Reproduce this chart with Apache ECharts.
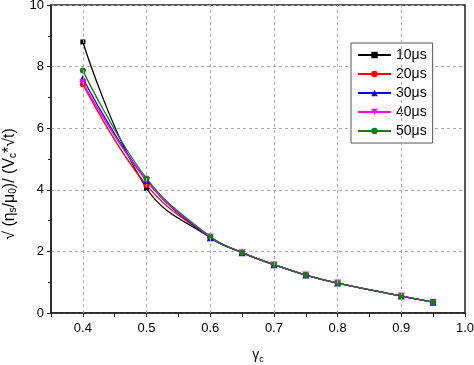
<!DOCTYPE html>
<html>
<head>
<meta charset="utf-8">
<script src="https://cdn.jsdelivr.net/npm/echarts@6/dist/echarts.min.js"></script>
<style>
  html, body { margin: 0; padding: 0; background: #fff; }
  #main { width: 474px; height: 365px; }
</style>
</head>
<body>
<div id="main"></div>
<script>
  var gammaC = [0.4, 0.5, 0.6, 0.65, 0.7, 0.75, 0.8, 0.9, 0.95];
  var s10 = [8.8, 4.05, 2.45, 1.96, 1.57, 1.23, 0.97, 0.55, 0.35];
  var s20 = [7.43, 4.15, 2.46, 1.96, 1.57, 1.23, 0.97, 0.55, 0.35];
  var s30 = [7.62, 4.3, 2.44, 1.96, 1.57, 1.23, 0.97, 0.55, 0.35];
  var s40 = [7.48, 4.3, 2.47, 1.96, 1.56, 1.23, 0.97, 0.55, 0.35];
  var s50 = [7.87, 4.37, 2.48, 1.96, 1.57, 1.23, 0.97, 0.55, 0.35];
  var seriesNames = ['10μs', '20μs', '30μs', '40μs', '50μs'];
  var xGridLines = [0.4, 0.5, 0.6, 0.7, 0.8, 0.9];

  var font = 'Liberation Sans';

  function pairs(vals) {
    return gammaC.map(function (x, i) { return [x, vals[i]]; });
  }

  function mkSeries(name, vals, color, symbol, size, rotate) {
    return {
      name: name,
      type: 'line',
      smooth: 0.4,
      data: pairs(vals),
      symbol: symbol,
      symbolSize: size,
      symbolRotate: rotate || 0,
      itemStyle: { color: color },
      lineStyle: { color: color, width: 1.3 }
    };
  }

  var series = [
    mkSeries(seriesNames[0], s10, '#000000', 'rect', 5),
    mkSeries(seriesNames[1], s20, '#ff0000', 'circle', 6),
    mkSeries(seriesNames[2], s30, '#0000ff', 'triangle', 7),
    mkSeries(seriesNames[3], s40, '#ff00ff', 'triangle', 7, 180),
    mkSeries(seriesNames[4], s50, '#1a7a1a', 'circle', 6)
  ];
  // vertical dashed grid lines
  series[0].markLine = {
    silent: true,
    symbol: 'none',
    label: { show: false },
    lineStyle: { color: '#aaa', type: [3, 3], width: 1 },
    data: xGridLines.map(function (v) { return { xAxis: v }; })
  };

  var myChart = echarts.init(document.getElementById('main'));
  var option = {
    animation: false,
    grid: {
      left: 51, right: 9, top: 5, bottom: 52,
      outerBoundsMode: 'none',
      containLabel: false,
      show: true, borderColor: '#222', borderWidth: 1.5
    },
    legend: {
      data: seriesNames,
      orient: 'vertical',
      left: 351,
      top: 43,
      padding: [5, 6, 5, 6],
      borderColor: '#555',
      borderWidth: 1,
      backgroundColor: '#fff',
      itemWidth: 33,
      itemHeight: 8,
      itemGap: 5,
      textStyle: { fontFamily: font, fontSize: 14, color: '#000', padding: [0, 0, 0, 0] }
    },
    xAxis: {
      type: 'value',
      min: 0.35,
      max: 1.0,
      interval: 0.05,
      name: '{g|γ}{s|c}',
      nameLocation: 'middle',
      nameGap: 34,
      nameTextStyle: {
        rich: {
          g: { fontFamily: font, fontSize: 14, color: '#000' },
          s: { fontFamily: font, fontSize: 9, color: '#000', padding: [8, 0, 0, 0] }
        }
      },
      axisLine: { lineStyle: { color: '#222', width: 1.5 } },
      axisTick: { show: true, inside: false, length: 4, lineStyle: { color: '#222' } },
      axisLabel: {
        fontFamily: font, fontSize: 13, color: '#000', margin: 9,
        formatter: function (v) {
          return Math.round(v * 100) % 10 === 0 ? v.toFixed(1) : '';
        }
      },
      splitLine: { show: false }
    },
    yAxis: {
      type: 'value',
      min: 0,
      max: 10,
      interval: 2,
      name: '{t|√ (η}{s|s}{t|/μ}{s|0}{t|)/ (V}{s|c}{t|*√t)}',
      nameLocation: 'middle',
      nameGap: 30,
      nameTextStyle: {
        padding: [0, 50, 0, 0],
        rich: {
          t: { fontFamily: font, fontSize: 16, color: '#000' },
          s: { fontFamily: font, fontSize: 10, color: '#000', padding: [9, 0, 0, 0] }
        }
      },
      axisLine: { show: true, lineStyle: { color: '#222', width: 1.5 } },
      axisTick: { show: true, inside: false, length: 4, lineStyle: { color: '#222' } },
      minorTick: { show: true, splitNumber: 2, length: 3, lineStyle: { color: '#222' } },
      axisLabel: { fontFamily: font, fontSize: 13, color: '#000', margin: 7 },
      splitLine: { show: true, lineStyle: { color: '#aaa', type: [3, 3], width: 1 } }
    },
    series: series
  };
  myChart.setOption(option);
</script>
</body>
</html>
